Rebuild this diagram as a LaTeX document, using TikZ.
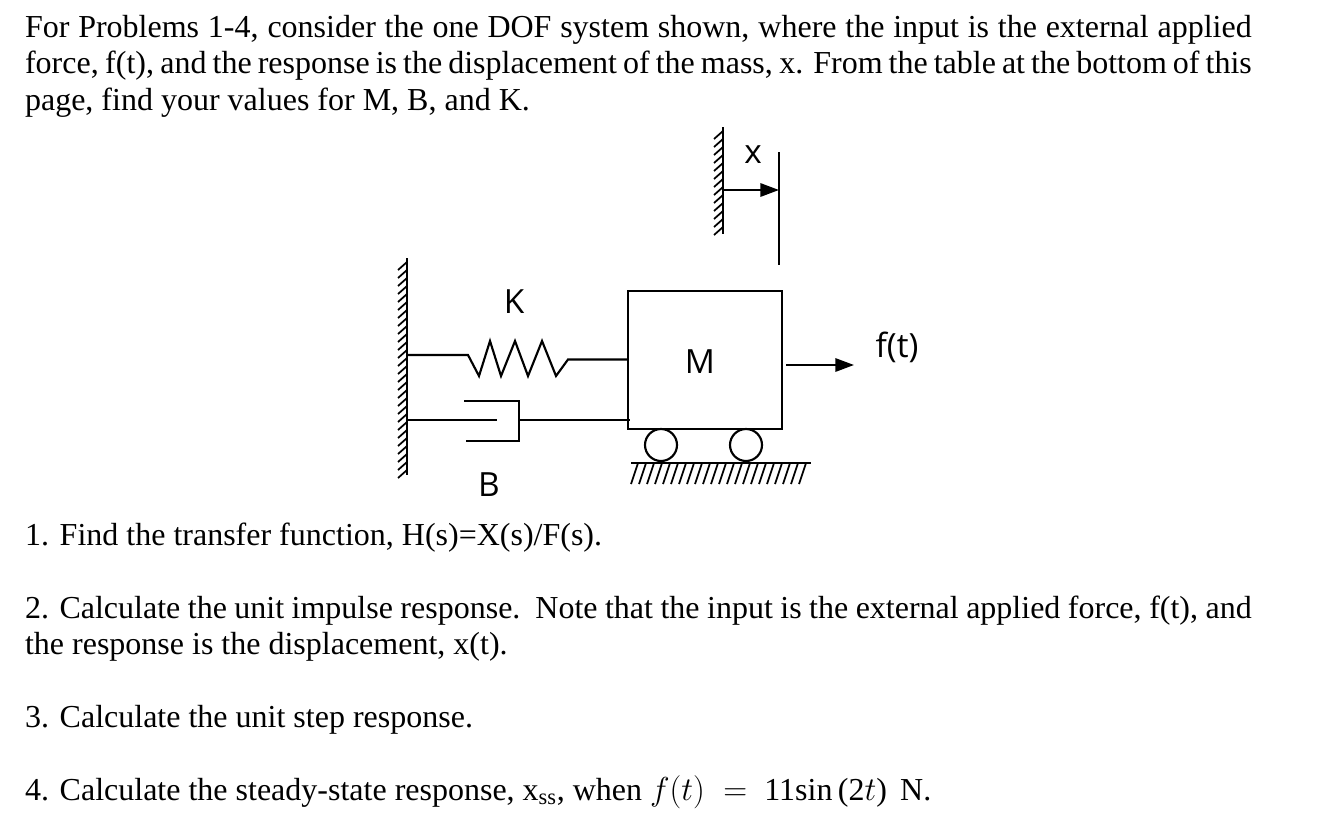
\documentclass[tikz,border=0pt]{standalone}
\usepackage{fontspec}
\usetikzlibrary{arrows.meta}
\setmainfont{Liberation Serif}
\newfontfamily\lblfont{Open Sans}
\begin{document}
\begin{tikzpicture}[x=0.75pt,y=-0.75pt,line width=1.6pt,
  txt/.style={anchor=base west,inner sep=0pt,font=\fontsize{24pt}{28pt}\selectfont},
  lbl/.style={inner sep=0pt,font=\lblfont\fontsize{25pt}{29pt}\selectfont},
  hatch/.style={line width=1.3pt},
  arr/.style={-{Triangle[length=14pt,width=10pt]}}]
\useasboundingbox (0,0) rectangle (1326,817);
% text
\node[txt] (l1) at (24,38) {\makebox[920pt][s]{For Problems 1-4, consider the one DOF system shown, where the input is the external applied}};
\node[txt] (l2) at (24,74) {\makebox[920pt][s]{force, f(t), and the response is the displacement of the mass, x. From the table at the bottom of this}};
\node[txt] (l3) at (24,110) {page, find your values for M, B, and K.};
\node[txt] (q1) at (24,545) {1. Find the transfer function, H(s)=X(s)/F(s).};
\node[txt] (q2a) at (24,618) {\makebox[920pt][s]{2. Calculate the unit impulse response.\ \ Note that the input is the external applied force, f(t), and}};
\node[txt] (q2b) at (24,654) {the response is the displacement, x(t).};
\node[txt] (q3) at (24,727) {3. Calculate the unit step response.};
\node[txt] (q4) at (24,800) {4. Calculate the steady-state response, x\textsubscript{ss}, when $f(t)\;=\;$ 11sin\,(2$t$)\, N.};
% left wall
\draw (407,258) -- (407,475);
\foreach \y in {262,270,...,474} \draw[hatch] (407,\y) -- (398,\y+8);
% mass
\draw (628,291) rectangle (782,429);
\node[lbl] (M) at (700,362) {M};
% spring
\draw (407,355) -- (468,355) -- (479,376) -- (490,341) -- (501,376) -- (515,341) -- (528,376) -- (542,341) -- (556,376) -- (568,359.5) -- (628,359.5);
\node[lbl] (K) at (514,302) {K};
% dashpot
\draw (407,420) -- (497,420);
\draw (464,401) -- (519,401) -- (519,441) -- (466,441);
\draw (519,420) -- (630,420);
\node[lbl] (B) at (489,485) {B};
% wheels and ground
\draw (661,445) circle (16);
\draw (746,445) circle (16);
\draw (631,463) -- (811,463);
\foreach \x in {638,646,...,811} \draw[hatch] (\x,463) -- (\x-7,484);
% displacement indicator
\draw (723,127) -- (723,234);
\foreach \y in {131,139,...,228} \draw[hatch] (723,\y) -- (714,\y+8);
\draw (779,152) -- (779,265);
\draw[arr] (723,190) -- (779,190);
\node[lbl] (x) at (753,155) {x};
% force
\draw[arr] (786,365) -- (854,365);
\node[lbl] (f) at (897,347) {f(t)};
\end{tikzpicture}
\end{document}
